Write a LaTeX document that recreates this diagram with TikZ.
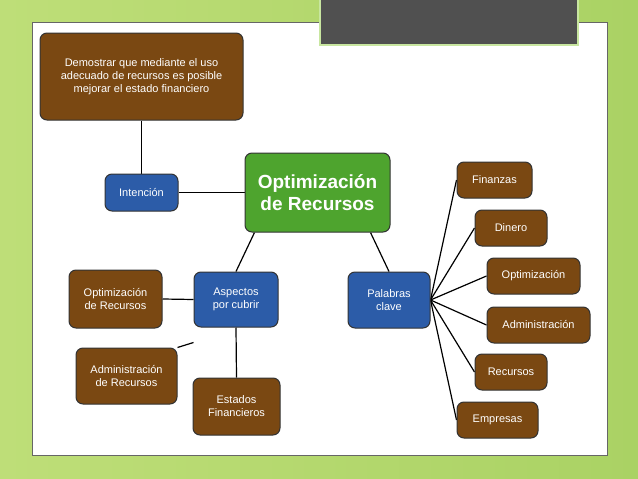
\documentclass[tikz,border=0pt]{standalone}
\usepackage{fontspec}
\setmainfont{Liberation Sans}
\usetikzlibrary{backgrounds}
\definecolor{brn}{RGB}{122,72,18}
\definecolor{blu}{RGB}{44,92,168}
\definecolor{grn}{RGB}{78,164,46}
\definecolor{bg1}{RGB}{190,222,120}
\definecolor{bg2}{RGB}{170,210,100}
\definecolor{topb}{RGB}{80,80,80}
\definecolor{topr}{RGB}{200,230,160}
\begin{document}
\begin{tikzpicture}[x=1pt,y=-1pt,
 box/.style={draw=black!80,line width=1pt,rounded corners=7pt,text=white,align=center,inner sep=2pt,font=\fontsize{11}{13}\selectfont},
 brownbox/.style={box,fill=brn},
 bluebox/.style={box,fill=blu},
 greenbox/.style={box,fill=grn,font=\bfseries\fontsize{19}{22}\selectfont},
 ln/.style={draw=black,line width=1.2pt}]
\useasboundingbox (0,0) rectangle (638,479);
\node[brownbox,minimum width=203pt,minimum height=87pt] (dem) at (141.5,76.5) {Demostrar que mediante el uso\\adecuado de recursos es posible\\mejorar el estado financiero};
\node[bluebox,minimum width=73pt,minimum height=37pt] (int) at (141.5,192.5) {Intención};
\node[greenbox,minimum width=145pt,minimum height=79pt] (opt) at (317.5,192.5) {Optimización\\de Recursos};
\node[bluebox,minimum width=84pt,minimum height=55pt] (asp) at (236,299.5) {Aspectos\\por cubrir};
\node[bluebox,minimum width=82pt,minimum height=56pt] (pal) at (389,300) {Palabras\\clave};
\node[brownbox,minimum width=93pt,minimum height=58pt] (or) at (115.5,299) {Optimización\\de Recursos};
\node[brownbox,minimum width=101pt,minimum height=56pt] (ar) at (126.5,376) {Administración\\de Recursos};
\node[brownbox,minimum width=87pt,minimum height=57pt] (ef) at (236.5,406.5) {Estados\\Financieros};
\node[brownbox,minimum width=75pt,minimum height=36pt] (fin) at (494.5,180) {Finanzas};
\node[brownbox,minimum width=72pt,minimum height=36pt] (din) at (511,228) {Dinero};
\node[brownbox,minimum width=93pt,minimum height=36pt] (opr) at (533.5,276) {Optimización};
\node[brownbox,minimum width=103pt,minimum height=36pt] (adm) at (538.5,325) {Administración};
\node[brownbox,minimum width=72pt,minimum height=36pt] (rec) at (511,372) {Recursos};
\node[brownbox,minimum width=81pt,minimum height=36pt] (emp) at (497.5,420) {Empresas};
\begin{scope}[on background layer]
\shade[left color=bg1,right color=bg2] (0,0) rectangle (638,479);
\fill[white,draw=black!60] (32,22) rectangle (607,455);
\fill[topb,draw=topr,line width=2pt] (320,-2) rectangle (578,45);
\draw[ln] (dem.south) -- (int.north);
\draw[ln] (int.east) -- (opt.west);
\draw[ln] ([xshift=10pt]opt.south west) -- (asp.north);
\draw[ln] ([xshift=-20pt]opt.south east) -- (pal.north);
\draw[ln] (asp.west) -- (or.east);
\draw[ln] ([yshift=-15pt]asp.south west) -- (ar.north east);
\draw[ln] (asp.south) -- (ef.north);
\foreach \n in {fin,din,opr,adm,rec,emp} \draw[ln] (pal.east) -- (\n.west);
\end{scope}
\end{tikzpicture}
\end{document}
